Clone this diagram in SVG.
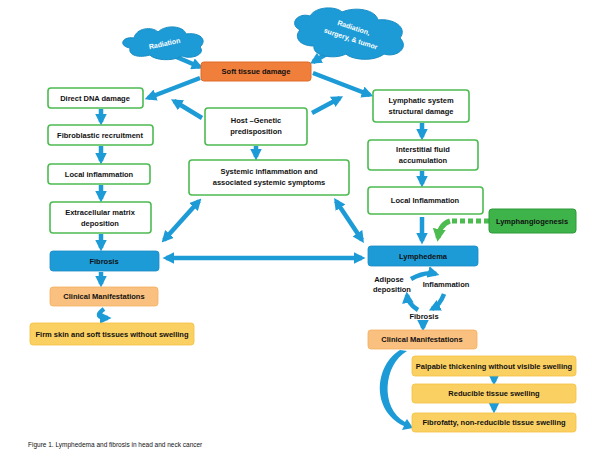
<svg xmlns="http://www.w3.org/2000/svg" width="600" height="471" viewBox="0 0 600 471">
<defs>
<style>
text{font-family:"Liberation Sans",Arial,sans-serif;font-weight:bold;font-size:7.5px;fill:#111;text-anchor:middle}
.g{fill:#fff;stroke:#4cbb50;stroke-width:1.6}
.b{fill:#1d9bd7;stroke:#1a8cc4;stroke-width:0.8}
.o{fill:#f9c07f;stroke:#f5b060;stroke-width:0.8}
.y{fill:#fbd063;stroke:#f5c040;stroke-width:0.8}
.a{stroke:#1d9bd7;stroke-width:4.5;fill:none}
.w{fill:#fff;font-size:7px}
</style>
<marker id="h" viewBox="0 0 10 10" refX="7" refY="5" markerWidth="2.6" markerHeight="2.6" orient="auto-start-reverse"><path d="M0,0L10,5L0,10z" fill="#1d9bd7"/></marker>
<marker id="hg" viewBox="0 0 10 10" refX="7" refY="5" markerWidth="2.6" markerHeight="2.6" orient="auto"><path d="M0,0L10,5L0,10z" fill="#4cbb50"/></marker>
</defs>
<rect width="600" height="471" fill="#fff"/>
<g id="connectors">
<line class="a" x1="160" y1="50" x2="200" y2="67" marker-end="url(#h)"/>
<line class="a" x1="333" y1="50" x2="313" y2="62" marker-end="url(#h)"/>
<line class="a" x1="200" y1="78" x2="148" y2="98" marker-end="url(#h)"/>
<line class="a" x1="313" y1="73" x2="370" y2="95" marker-end="url(#h)"/>
<line class="a" x1="202" y1="118" x2="174" y2="101" marker-end="url(#h)"/>
<line class="a" x1="312" y1="113" x2="340" y2="98" marker-end="url(#h)"/>
<line class="a" x1="256" y1="146" x2="256" y2="157" marker-end="url(#h)"/>
<line class="a" x1="199" y1="201" x2="164" y2="240" marker-start="url(#h)" marker-end="url(#h)"/>
<line class="a" x1="336" y1="201" x2="362" y2="240" marker-start="url(#h)" marker-end="url(#h)"/>
<line class="a" x1="166" y1="258" x2="362" y2="258" marker-start="url(#h)" marker-end="url(#h)"/>
<line class="a" x1="101" y1="109" x2="101" y2="122" marker-end="url(#h)"/>
<line class="a" x1="101" y1="146" x2="101" y2="161" marker-end="url(#h)"/>
<line class="a" x1="101" y1="185" x2="101" y2="199" marker-end="url(#h)"/>
<line class="a" x1="101" y1="234" x2="101" y2="248" marker-end="url(#h)"/>
<line class="a" x1="101" y1="272" x2="101" y2="284" marker-end="url(#h)"/>
<path class="a" d="M104,309 Q94,316 104,318 L108,318" marker-end="url(#h)"/>
<line class="a" x1="422" y1="123" x2="422" y2="137" marker-end="url(#h)"/>
<line class="a" x1="422" y1="171" x2="422" y2="184" marker-end="url(#h)"/>
<line class="a" x1="422" y1="217" x2="422" y2="241" marker-end="url(#h)"/>
<line x1="489" y1="221" x2="452" y2="221" stroke="#4cbb50" stroke-width="5" stroke-dasharray="5,3"/>
<path d="M450,221 Q440,224 438,238" stroke="#4cbb50" stroke-width="5" fill="none" marker-end="url(#hg)"/>
<path class="a" d="M411,279 Q425,271 436,274" marker-end="url(#h)"/>
<path class="a" d="M444,294 Q440,305 432,309" marker-end="url(#h)"/>
<path class="a" d="M418,310 Q408,304 407,295" marker-end="url(#h)"/>
<line class="a" x1="423" y1="322" x2="423" y2="328" marker-end="url(#h)"/>
<path d="M400,350 C375,365 370,410 404,426 L402,430 L413,428 L407,419 L405,422 C380,408 383,365 407,351 Z" fill="#1d9bd7"/>
<line class="a" x1="494" y1="377" x2="494" y2="382" marker-end="url(#h)"/>
<line class="a" x1="494" y1="404" x2="494" y2="410" marker-end="url(#h)"/>
</g>
<g id="cloud1"><path d="M130,48 C118,46 122,36 134,38 C136,28 152,26 158,32 C166,24 184,26 186,34 C200,32 208,40 200,47 C206,54 192,60 182,56 C172,62 154,60 150,55 C140,58 128,56 130,48Z" fill="#1d9bd7" stroke="#1a8cc4"/><text x="165" y="46" class="w" transform="rotate(-12 165 46)">Radiation</text></g>
<g id="cloud2"><path d="M300,30 C288,24 298,12 310,16 C316,6 336,6 342,12 C356,6 376,10 378,20 C394,18 408,28 400,38 C410,48 396,58 384,54 C374,62 352,60 346,54 C334,60 312,56 314,46 C298,46 294,36 300,30Z" fill="#1d9bd7" stroke="#1a8cc4"/><text class="w" x="353" y="30" transform="rotate(18 353 30)">Radiation,</text><text class="w" x="350" y="41" transform="rotate(18 350 41)">surgery, &amp; tumor</text></g>
<g id="soft"><rect x="201" y="62" width="110" height="19" rx="3" fill="#f07f3c" stroke="#e06a28"/><text x="256" y="74">Soft tissue damage</text></g>
<g id="dna"><rect class="g" x="48" y="88" width="95" height="20" rx="3"/><text x="95" y="101">Direct DNA damage</text></g>
<g id="fib"><rect class="g" x="48" y="125" width="105" height="20" rx="3"/><text x="100" y="138">Fibroblastic recruitment</text></g>
<g id="locl"><rect class="g" x="48" y="164" width="102" height="20" rx="3"/><text x="99" y="177">Local inflammation</text></g>
<g id="ecm"><rect class="g" x="50" y="202" width="101" height="31" rx="3"/><text x="100" y="215">Extracellular matrix</text><text x="100" y="226">deposition</text></g>
<g id="fibrosis"><rect class="b" x="50" y="251" width="109" height="20" rx="3"/><text x="104" y="264">Fibrosis</text></g>
<g id="clin1"><rect class="o" x="50" y="287" width="108" height="19" rx="3"/><text x="104" y="299">Clinical Manifestations</text></g>
<g id="firm"><rect class="y" x="30" y="323" width="164" height="22" rx="3"/><text x="112" y="336.5">Firm skin and soft tissues without swelling</text></g>
<g id="host"><rect class="g" x="205" y="108" width="102" height="37" rx="3"/><text x="256" y="123">Host –Genetic</text><text x="256" y="134">predisposition</text></g>
<g id="systemic"><rect class="g" x="189" y="160" width="160" height="35" rx="3"/><text x="269" y="174">Systemic inflammation and</text><text x="269" y="185">associated systemic symptoms</text></g>
<g id="lymsys"><rect class="g" x="373" y="90" width="96" height="32" rx="3"/><text x="421" y="103">Lymphatic system</text><text x="421" y="114">structural damage</text></g>
<g id="fluid"><rect class="g" x="368" y="140" width="110" height="30" rx="3"/><text x="423" y="152">Interstitial fluid</text><text x="423" y="163">accumulation</text></g>
<g id="locr"><rect class="g" x="368" y="187" width="115" height="27" rx="3"/><text x="425" y="203">Local Inflammation</text></g>
<g id="lymphang"><rect x="489" y="209" width="87" height="24" rx="3" fill="#3db34a" stroke="#2e9a3a"/><text x="532" y="223.5">Lymphangiogenesis</text></g>
<g id="lymphedema"><rect class="b" x="368" y="246" width="110" height="20" rx="3"/><text x="423" y="259">Lymphedema</text></g>
<g id="cycle"><text x="389" y="282">Adipose</text><text x="392" y="292">deposition</text><text x="446" y="287">Inflammation</text><text x="424" y="319">Fibrosis</text></g>
<g id="clin2"><rect class="o" x="368" y="330" width="109" height="19" rx="3"/><text x="422" y="342">Clinical Manifestations</text></g>
<g id="palp"><rect class="y" x="412" y="356" width="164" height="20" rx="3"/><text x="494" y="369">Palpable thickening without visible swelling</text></g>
<g id="redu"><rect class="y" x="412" y="384" width="164" height="19" rx="3"/><text x="494" y="396">Reducible tissue swelling</text></g>
<g id="fibro"><rect class="y" x="412" y="413" width="164" height="19" rx="3"/><text x="494" y="425">Fibrofatty, non-reducible tissue swelling</text></g>
<text x="28" y="447" style="font-weight:normal;font-size:6.5px;text-anchor:start">Figure 1.  Lymphedema and fibrosis in head and neck cancer</text>
</svg>
